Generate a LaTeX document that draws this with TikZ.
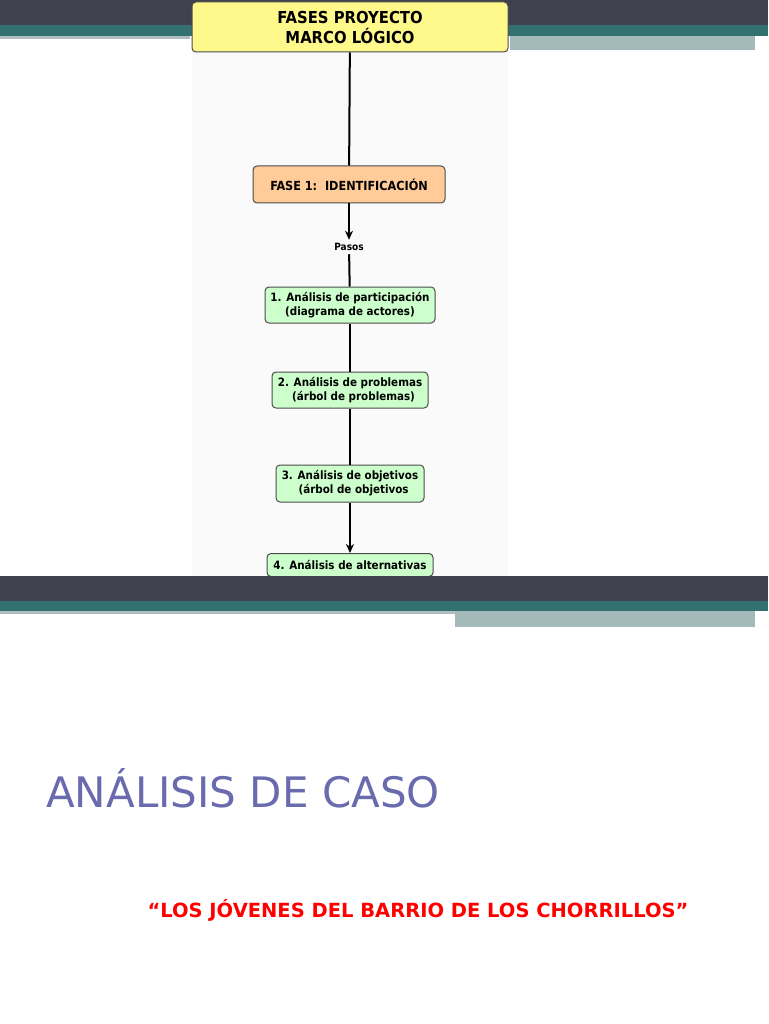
\documentclass[tikz,border=0pt]{standalone}
\usepackage{fontspec}
\setmainfont{DejaVu Sans}
\newfontfamily\condf{DejaVu Sans Condensed}
\usetikzlibrary{arrows.meta}
\begin{document}
\begin{tikzpicture}[x=1pt,y=-1pt,
 box/.style={draw=black!70,line width=1pt,rounded corners=4pt,font=\condf\bfseries\fontsize{11.5}{14}\selectfont,align=center,inner sep=0pt},
 conn/.style={line width=2pt},
 arr/.style={line width=2pt,-{Stealth[length=9pt,width=8pt]}}]
\useasboundingbox (0,0) rectangle (768,1024);
\fill[white] (0,0) rectangle (768,1024);
\fill[black!2] (192,0) rectangle (508,576);
% top band
\fill[black!50!blue!15!black!75] (0,0) rectangle (768,25);
\fill[teal!60!black!80] (0,25) rectangle (768,36);
\fill[teal!25!gray!50] (0,36) rectangle (190,39);
\fill[teal!30!gray!55] (510,36) rectangle (755,50);
% boxes
\node[box,fill=yellow!45,minimum width=316,minimum height=50,font=\condf\bfseries\fontsize{16.5}{20}\selectfont] (top) at (350,27) {FASES PROYECTO\\MARCO LÓGICO};
\node[box,fill=orange!40,minimum width=192,minimum height=37,font=\condf\bfseries\fontsize{12.5}{15}\selectfont] (f1) at (349,184.5) {FASE 1:\ \ IDENTIFICACIÓN};
\node[font=\condf\bfseries\fontsize{10}{12}\selectfont] (pasos) at (349,247) {Pasos};
\node[box,fill=green!20,minimum width=170,minimum height=36] (s1) at (350,305) {1. Análisis de participación\\(diagrama de actores)};
\node[box,fill=green!20,minimum width=156,minimum height=36] (s2) at (350,390) {2. Análisis de problemas\\\ \ (árbol de problemas)};
\node[box,fill=green!20,minimum width=148,minimum height=37] (s3) at (350,483.5) {3. Análisis de objetivos\\\ \ (árbol de objetivos};
\node[box,fill=green!20,minimum width=166,minimum height=23,anchor=north] (s4) at (350,553) {4. Análisis de alternativas};
% connectors
\draw[conn] (top) -- (f1);
\draw[arr] (f1) -- (pasos);
\draw[conn] (pasos) -- (s1);
\draw[conn] (s1) -- (s2);
\draw[conn] (s2) -- (s3);
\draw[arr] (s3) -- (s4);
% bottom band
\fill[black!50!blue!15!black!75] (0,576) rectangle (768,601);
\fill[teal!60!black!80] (0,601) rectangle (768,611);
\fill[teal!25!gray!50] (0,611) rectangle (455,614);
\fill[teal!30!gray!55] (455,611) rectangle (755,627);
% texts
\node[anchor=base west,inner sep=0,text=blue!30!gray!90,font=\fontsize{42}{48}\selectfont] (title) at (46,807) {ANÁLISIS DE CASO};
\node[anchor=base,inner sep=0,text=red,font=\bfseries\fontsize{19.5}{23}\selectfont] (sub) at (418,917) {“LOS JÓVENES DEL BARRIO DE LOS CHORRILLOS”};
\end{tikzpicture}
\end{document}
